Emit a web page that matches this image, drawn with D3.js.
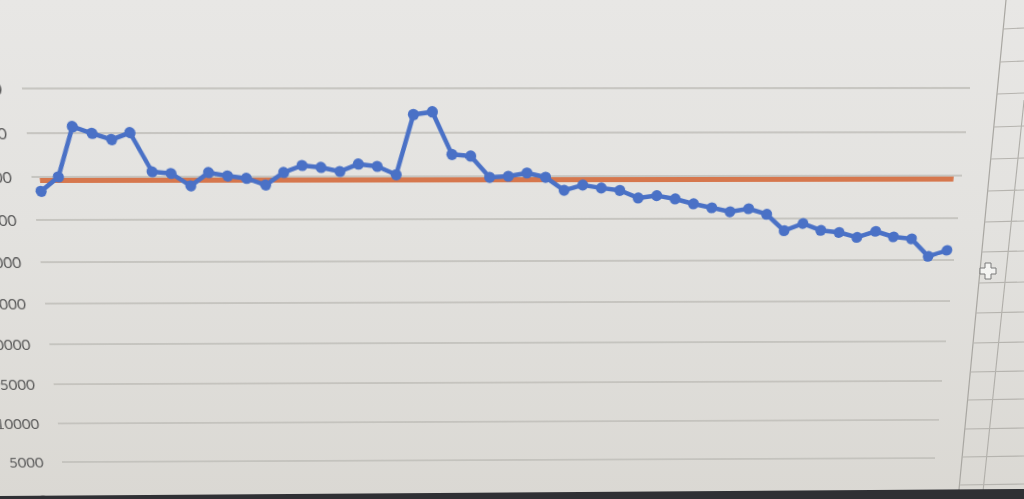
<!DOCTYPE html>
<html>
<head>
<meta charset="utf-8">
<script src="https://cdn.jsdelivr.net/npm/d3@7"></script>
<style>
  html, body { margin: 0; padding: 0; width: 1024px; height: 499px; overflow: hidden; }
  body { background: linear-gradient(180deg, #e8e7e5 0%, #e3e2df 45%, #dad8d3 100%); position: relative; }
  #chart { position: absolute; left: 0; top: 0; transform-origin: 0 0; overflow: visible; }
  #overlay { position: absolute; left: 0; top: 0; }
</style>
</head>
<body>
<svg id="chart" width="1024" height="540"></svg>
<svg id="overlay" width="1024" height="499"></svg>
<script>
// ---- data ----
const categories = d3.range(1, 51).map(String);
const actualValues = [
  38340, 40000, 45730, 44970, 44270, 45040, 40580, 40380, 38950, 40470,
  40080, 39800, 39030, 40470, 41280, 41050, 40580, 41430, 41160, 40200,
  47060, 47360, 42520, 42330, 39880, 40000, 40380, 39880, 38360, 38970,
  38620, 38340, 37450, 37720, 37330, 36750, 36280, 35810, 36160, 35500,
  33550, 34400, 33580, 33340, 32740, 33460, 32790, 32550, 30440, 31160
];
const targetValues = categories.map(() => 39600);
const yTicks = [0, 5000, 10000, 15000, 20000, 25000, 30000, 35000, 40000, 45000, 50000];

// ---- flat layout ----
const PL = 22, PR = 970, YT = 88, YB = 518;   // plot area in flat coordinates
const y = d3.scaleLinear().domain([0, 50000]).range([YB, YT]);
const x = d3.scalePoint().domain(categories).range([PL, PR]).padding(0.43);

const svg = d3.select('#chart');

// gridlines
svg.append('g').selectAll('line').data(yTicks).join('line')
  .attr('x1', PL).attr('x2', PR)
  .attr('y1', d => y(d)).attr('y2', d => y(d))
  .attr('stroke', '#bdbbb6').attr('stroke-width', 1.4);

// axis labels
svg.append('g').selectAll('text').data(yTicks).join('text')
  .attr('x', PL - 20).attr('y', d => y(d))
  .attr('dy', '0.36em')
  .attr('text-anchor', 'end')
  .attr('font-family', 'Lato, "Open Sans", sans-serif')
  .attr('font-size', 16)
  .attr('fill', '#5b5b5b')
  .text(d => d);

// target line (orange)
const line = d3.line().x((d, i) => x(categories[i])).y(d => y(d));
svg.append('path').datum(targetValues)
  .attr('d', line)
  .attr('fill', 'none')
  .attr('stroke', '#d6774d')
  .attr('stroke-width', 5);

// actual series (blue)
svg.append('path').datum(actualValues)
  .attr('d', line)
  .attr('fill', 'none')
  .attr('stroke', '#4a71c6')
  .attr('stroke-width', 4.5)
  .attr('stroke-linejoin', 'round');

svg.append('g').selectAll('circle').data(actualValues).join('circle')
  .attr('cx', (d, i) => x(categories[i]))
  .attr('cy', d => y(d))
  .attr('r', 5.6)
  .attr('fill', '#4a71c6');

// ---- perspective of the photo (homography) ----
function homography(src, dst) {
  const A = [], b = [];
  for (let i = 0; i < 4; i++) {
    const [sx, sy] = src[i], [dx, dy] = dst[i];
    A.push([sx, sy, 1, 0, 0, 0, -dx * sx, -dx * sy]); b.push(dx);
    A.push([0, 0, 0, sx, sy, 1, -dy * sx, -dy * sy]); b.push(dy);
  }
  const n = 8;
  for (let c = 0; c < n; c++) {
    let p = c;
    for (let r = c + 1; r < n; r++) if (Math.abs(A[r][c]) > Math.abs(A[p][c])) p = r;
    [A[c], A[p]] = [A[p], A[c]]; [b[c], b[p]] = [b[p], b[c]];
    for (let r = 0; r < n; r++) {
      if (r === c) continue;
      const f = A[r][c] / A[c][c];
      for (let k = c; k < n; k++) A[r][k] -= f * A[c][k];
      b[r] -= f * b[c];
    }
  }
  return b.map((v, i) => v / A[i][i]);
}
const yTop = y(50000), yLow = y(5000);
const h = homography(
  [[PL, yTop], [PR, yTop], [PL, yLow], [PR, yLow]],
  [[22, 88.5], [970, 88], [62, 462], [935, 458]]
);
const [a, bb, c, d, e, f, g, hh] = h;
document.getElementById('chart').style.transform =
  `matrix3d(${a},${d},0,${g},${bb},${e},0,${hh},0,0,1,0,${c},${f},0,1)`;

// ---- spreadsheet cells at the right and screen bezel ----
const ov = d3.select('#overlay');
const edge1 = yy => 1006 - yy * 0.096;
const edge2 = yy => 1034.6 - yy * 0.105;
const rows = [29, 62, 94, 127, 159, 191, 222, 252, 283, 313, 343, 372, 400, 429, 457, 485];
ov.append('line').attr('x1', edge1(0)).attr('y1', 0).attr('x2', edge1(499)).attr('y2', 499)
  .attr('stroke', '#a9a7a2').attr('stroke-width', 1.2);
ov.append('line').attr('x1', edge2(100)).attr('y1', 100).attr('x2', edge2(499)).attr('y2', 499)
  .attr('stroke', '#b0aea9').attr('stroke-width', 1.1);
ov.append('g').selectAll('line').data(rows).join('line')
  .attr('x1', d => edge1(d)).attr('x2', 1024)
  .attr('y1', d => d).attr('y2', d => d - 1)
  .attr('stroke', '#b6b4af').attr('stroke-width', 1.1);
// cursor
ov.append('path')
  .attr('d', 'M985,263 h6 v5 h5 v6 h-5 v5 h-6 v-5 h-5 v-6 h5 z')
  .attr('fill', '#f4f4f2').attr('stroke', '#7a7a7a').attr('stroke-width', 1);
// bezel
ov.append('polygon').attr('points', '0,496 1024,489 1024,499 0,499').attr('fill', '#2f3034');
</script>
</body>
</html>
